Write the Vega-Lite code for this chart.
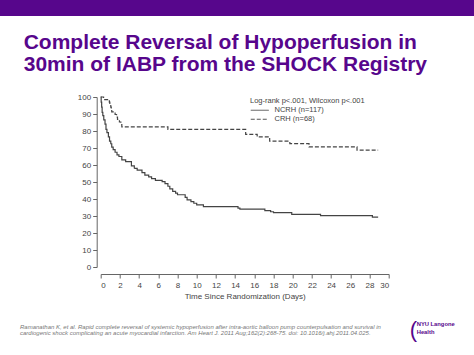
{
  "$schema": "https://vega.github.io/schema/vega-lite/v6.json",
  "autosize": "none",
  "width": 288,
  "height": 170,
  "padding": {"left": 100.7, "top": 97, "right": 85.3, "bottom": 88},
  "background": "white",
  "config": {"view": {"stroke": null}, "font": "Liberation Sans"},
  "title": {
    "text": ["Complete Reversal of Hypoperfusion in", "30min of IABP from the SHOCK Registry"],
    "anchor": "start",
    "frame": "group",
    "dx": -77,
    "offset": -75,
    "font": "Liberation Sans",
    "fontSize": 21,
    "fontWeight": "bold",
    "color": "#57068c",
    "lineHeight": 22
  },
  "datasets": {
    "km": [
      {"group": "NCRH (n=117)", "day": 0, "surv": 100},
      {"group": "NCRH (n=117)", "day": 0.05, "surv": 97},
      {"group": "NCRH (n=117)", "day": 0.1, "surv": 94},
      {"group": "NCRH (n=117)", "day": 0.15, "surv": 91},
      {"group": "NCRH (n=117)", "day": 0.22, "surv": 89},
      {"group": "NCRH (n=117)", "day": 0.32, "surv": 86.5},
      {"group": "NCRH (n=117)", "day": 0.45, "surv": 84},
      {"group": "NCRH (n=117)", "day": 0.55, "surv": 81},
      {"group": "NCRH (n=117)", "day": 0.65, "surv": 79},
      {"group": "NCRH (n=117)", "day": 0.8, "surv": 76.5},
      {"group": "NCRH (n=117)", "day": 0.92, "surv": 74},
      {"group": "NCRH (n=117)", "day": 1.05, "surv": 72.5},
      {"group": "NCRH (n=117)", "day": 1.15, "surv": 70.5},
      {"group": "NCRH (n=117)", "day": 1.3, "surv": 69},
      {"group": "NCRH (n=117)", "day": 1.5, "surv": 67.5},
      {"group": "NCRH (n=117)", "day": 1.7, "surv": 66},
      {"group": "NCRH (n=117)", "day": 1.9, "surv": 65},
      {"group": "NCRH (n=117)", "day": 2.2, "surv": 63},
      {"group": "NCRH (n=117)", "day": 2.6, "surv": 62},
      {"group": "NCRH (n=117)", "day": 3.2, "surv": 59.5},
      {"group": "NCRH (n=117)", "day": 3.5, "surv": 58},
      {"group": "NCRH (n=117)", "day": 3.8, "surv": 57},
      {"group": "NCRH (n=117)", "day": 4.3, "surv": 55.5},
      {"group": "NCRH (n=117)", "day": 4.6, "surv": 54},
      {"group": "NCRH (n=117)", "day": 5.0, "surv": 53},
      {"group": "NCRH (n=117)", "day": 5.3, "surv": 52},
      {"group": "NCRH (n=117)", "day": 5.7, "surv": 51},
      {"group": "NCRH (n=117)", "day": 6.4, "surv": 50.2},
      {"group": "NCRH (n=117)", "day": 6.7, "surv": 49},
      {"group": "NCRH (n=117)", "day": 7.0, "surv": 47.5},
      {"group": "NCRH (n=117)", "day": 7.2, "surv": 46},
      {"group": "NCRH (n=117)", "day": 7.5, "surv": 44.5},
      {"group": "NCRH (n=117)", "day": 7.8, "surv": 43.4},
      {"group": "NCRH (n=117)", "day": 8.0, "surv": 42.5},
      {"group": "NCRH (n=117)", "day": 8.8, "surv": 41},
      {"group": "NCRH (n=117)", "day": 9.0, "surv": 39.5},
      {"group": "NCRH (n=117)", "day": 9.4, "surv": 38.5},
      {"group": "NCRH (n=117)", "day": 9.7, "surv": 37.5},
      {"group": "NCRH (n=117)", "day": 10.0, "surv": 36.5},
      {"group": "NCRH (n=117)", "day": 10.7, "surv": 35.5},
      {"group": "NCRH (n=117)", "day": 14.3, "surv": 34.6},
      {"group": "NCRH (n=117)", "day": 14.5, "surv": 34},
      {"group": "NCRH (n=117)", "day": 17.1, "surv": 33.2},
      {"group": "NCRH (n=117)", "day": 17.7, "surv": 32.5},
      {"group": "NCRH (n=117)", "day": 18.0, "surv": 32},
      {"group": "NCRH (n=117)", "day": 19.9, "surv": 31},
      {"group": "NCRH (n=117)", "day": 22.9, "surv": 30.2},
      {"group": "NCRH (n=117)", "day": 28.3, "surv": 29.3},
      {"group": "NCRH (n=117)", "day": 28.9, "surv": 29.3},
      {"group": "CRH (n=68)", "day": 0, "surv": 100},
      {"group": "CRH (n=68)", "day": 0.3, "surv": 98.5},
      {"group": "CRH (n=68)", "day": 0.9, "surv": 97},
      {"group": "CRH (n=68)", "day": 0.95, "surv": 95.6},
      {"group": "CRH (n=68)", "day": 1.05, "surv": 94.1},
      {"group": "CRH (n=68)", "day": 1.1, "surv": 92.6},
      {"group": "CRH (n=68)", "day": 1.15, "surv": 91.2},
      {"group": "CRH (n=68)", "day": 1.5, "surv": 89.7},
      {"group": "CRH (n=68)", "day": 1.65, "surv": 88.2},
      {"group": "CRH (n=68)", "day": 1.75, "surv": 86.8},
      {"group": "CRH (n=68)", "day": 1.95, "surv": 85.3},
      {"group": "CRH (n=68)", "day": 2.1, "surv": 83.8},
      {"group": "CRH (n=68)", "day": 2.2, "surv": 82.4},
      {"group": "CRH (n=68)", "day": 7.0, "surv": 80.9},
      {"group": "CRH (n=68)", "day": 15.1, "surv": 78.0},
      {"group": "CRH (n=68)", "day": 16.3, "surv": 76.5},
      {"group": "CRH (n=68)", "day": 17.6, "surv": 74.0},
      {"group": "CRH (n=68)", "day": 19.7, "surv": 72.6},
      {"group": "CRH (n=68)", "day": 21.7, "surv": 70.7},
      {"group": "CRH (n=68)", "day": 26.7, "surv": 68.8},
      {"group": "CRH (n=68)", "day": 28.9, "surv": 68.8}
    ],
    "notes": [{"k": 1}]
  },
  "layer": [
    {
      "data": {"name": "km"},
      "mark": {"type": "line", "interpolate": "step-after", "stroke": "#444", "strokeWidth": 1.2},
      "encoding": {
        "x": {
          "field": "day", "type": "quantitative",
          "scale": {"domain": [0, 30], "nice": false, "zero": true},
          "axis": {
            "values": [0, 2, 4, 6, 8, 10, 12, 14, 16, 18, 20, 22, 24, 26, 28, 30],
            "offset": 7, "grid": false, "tickSize": 4, "labelFontSize": 8,
            "labelColor": "#444", "domainColor": "#666", "tickColor": "#666",
            "labelFont": "Liberation Sans", "labelPadding": 3,
            "title": "Time Since Randomization (Days)", "titleFontSize": 8,
            "titleFontWeight": "normal", "titleColor": "#444", "titlePadding": 3,
            "titleFont": "Liberation Sans"
          }
        },
        "y": {
          "field": "surv", "type": "quantitative",
          "scale": {"domain": [0, 100], "nice": false},
          "axis": {
            "values": [0, 10, 20, 30, 40, 50, 60, 70, 80, 90, 100],
            "offset": 4, "grid": false, "tickSize": 4, "labelFontSize": 8,
            "labelColor": "#444", "domainColor": "#666", "tickColor": "#666",
            "labelFont": "Liberation Sans", "labelPadding": 2, "title": null
          }
        },
        "strokeDash": {
          "field": "group", "type": "nominal",
          "scale": {"domain": ["NCRH (n=117)", "CRH (n=68)"], "range": [[1, 0], [4, 2]]},
          "legend": {
            "orient": "none", "legendX": 149.3, "legendY": 0,
            "title": "Log-rank p<.001, Wilcoxon p<.001",
            "titleFontSize": 7.5, "titleFontWeight": "normal", "titleColor": "#444",
            "titleFont": "Liberation Sans", "titlePadding": 2,
            "labelFontSize": 7.5, "labelColor": "#444", "labelFont": "Liberation Sans",
            "symbolType": "M-1,0L5,0", "symbolSize": 36, "symbolStrokeColor": "#555",
            "symbolStrokeWidth": 1, "rowPadding": 0, "labelOffset": 17, "padding": 0
          }
        }
      }
    },
    {
      "data": {"name": "notes"},
      "mark": {"type": "rect", "fill": "#57068c"},
      "encoding": {
        "x": {"value": -100.7}, "x2": {"value": 373.3},
        "y": {"value": -97}, "y2": {"value": -81}
      }
    },
    {
      "data": {"name": "notes"},
      "mark": {"type": "text", "align": "left", "baseline": "alphabetic", "font": "Liberation Sans",
               "fontStyle": "italic", "fontSize": 6.0, "fill": "#777", "lineHeight": 6.2},
      "encoding": {
        "x": {"value": -80.7}, "y": {"value": 231.5},
        "text": {"value": ["Ramanathan K, et al. Rapid complete reversal of systemic hypoperfusion after intra-aortic balloon pump counterpulsation and survival in", "cardiogenic shock complicating an acute myocardial infarction. Am Heart J. 2011 Aug;162(2):268-75. doi: 10.1016/j.ahj.2011.04.025."]}
      }
    },
    {
      "data": {"name": "notes"},
      "mark": {"type": "text", "align": "left", "baseline": "alphabetic", "font": "Liberation Sans",
               "fontWeight": "normal", "fontSize": 22, "fill": "#57068c"},
      "encoding": {
        "x": {"value": 309}, "y": {"value": 240},
        "text": {"value": "("}
      }
    },
    {
      "data": {"name": "notes"},
      "mark": {"type": "text", "align": "left", "baseline": "alphabetic", "font": "Liberation Sans",
               "fontWeight": "bold", "fontSize": 5.8, "fill": "#57068c", "lineHeight": 8},
      "encoding": {
        "x": {"value": 316}, "y": {"value": 229},
        "text": {"value": ["NYU Langone", "     Health"]}
      }
    }
  ]
}
